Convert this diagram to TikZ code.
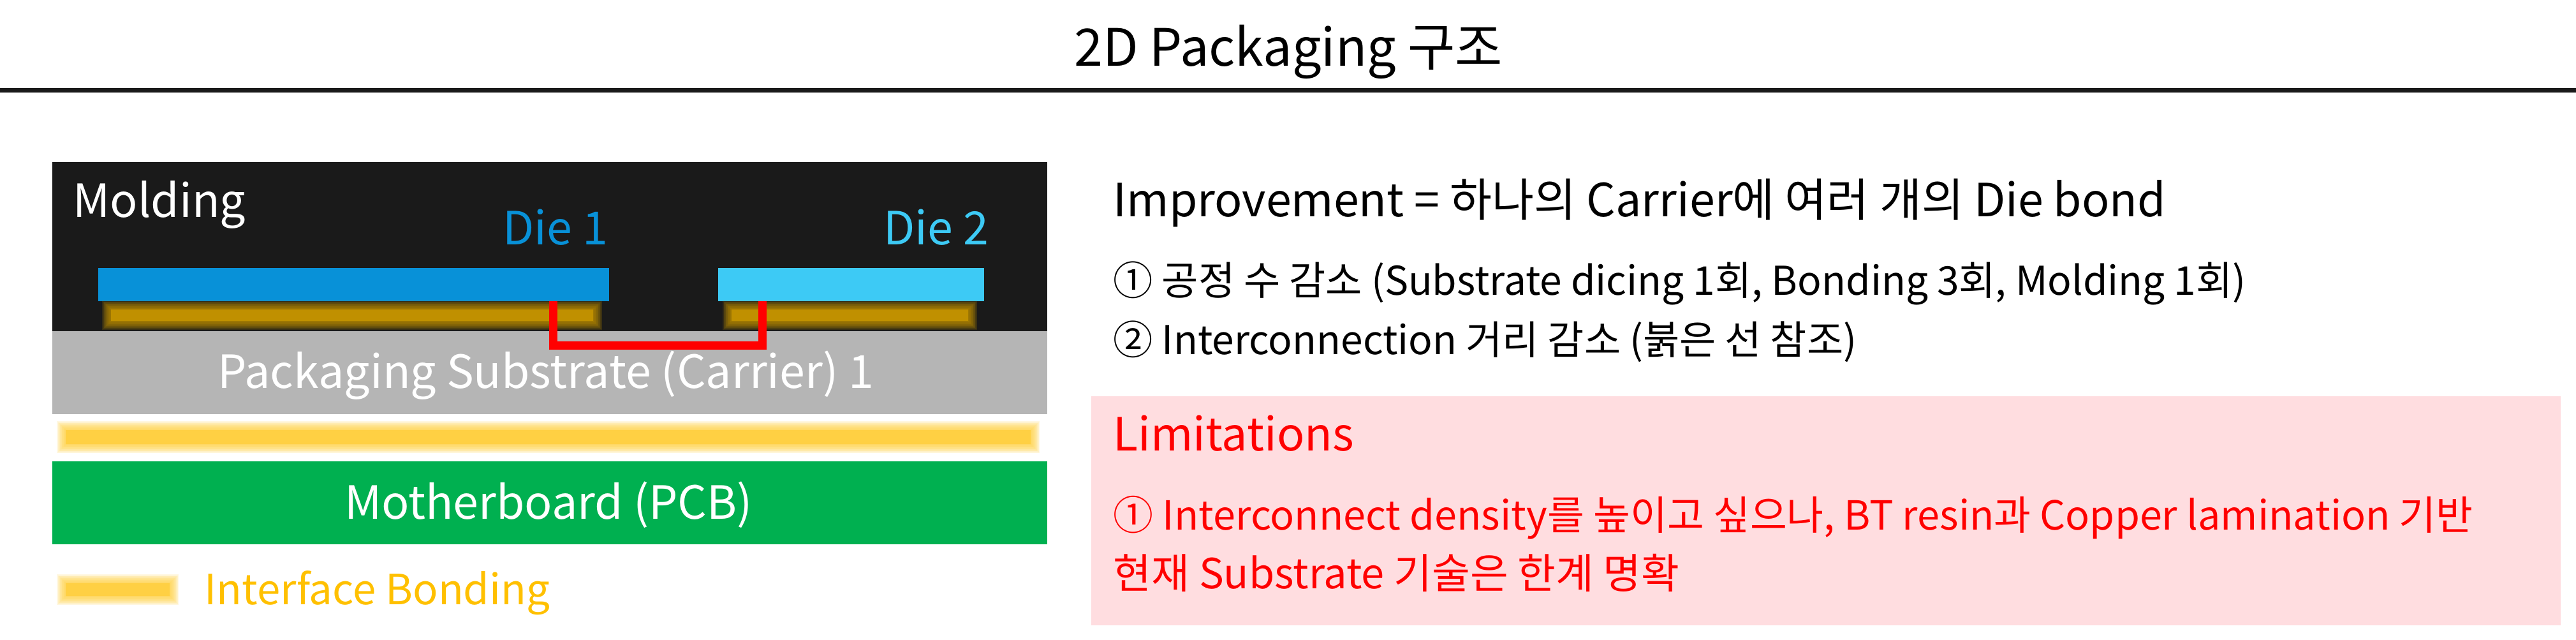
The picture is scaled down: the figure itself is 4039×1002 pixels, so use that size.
\documentclass[tikz,border=0pt]{standalone}
\usepackage{fontspec}
\setmainfont{Noto Sans CJK KR}
\usepackage{xcolor}
\usetikzlibrary{positioning}
\usetikzlibrary{calc}

\definecolor{moldblack}{HTML}{1A1A1A}
\definecolor{dieone}{HTML}{0891D8}
\definecolor{dietwo}{HTML}{3DCAF5}
\definecolor{diebond}{HTML}{C09000}
\definecolor{subgray}{HTML}{B5B5B5}
\definecolor{bondyellow}{HTML}{FFD043}
\definecolor{legendyellow}{HTML}{FFC000}
\definecolor{pcbgreen}{HTML}{00B050}
\definecolor{limpink}{HTML}{FFDDE0}
\definecolor{limred}{HTML}{FF0000}

\begin{document}
\begin{tikzpicture}[x=0.01cm,y=-0.01cm,
    layer/.style={draw=none,inner sep=0,anchor=north west},
    txt/.style={inner sep=0,anchor=base west,font=\fontsize{20.4pt}{24pt}\selectfont},
    small txt/.style={txt,font=\fontsize{17.7pt}{21pt}\selectfont},
    wire/.style={draw=limred,line width=0.13cm}]
\useasboundingbox (0,0) rectangle (4039,1002);

% title
\node[inner sep=0,anchor=base,font=\fontsize{23pt}{28pt}\selectfont] (title) at (2020,103) {2D Packaging 구조};
\coordinate (rulel) at (0,141);
\coordinate (ruler) at (4039,141);
\draw[line width=0.07cm,moldblack] (rulel) -- (ruler);

% package stack
\node[layer,fill=moldblack,minimum width=15.59cm,minimum height=2.65cm] (molding) at (81,253) {};
\node[layer,fill=subgray,minimum width=15.59cm,minimum height=1.30cm] (substrate) at (81,518) {};
\node[layer,fill=pcbgreen,minimum width=15.59cm,minimum height=1.30cm] (pcb) at (81,722) {};
\node[layer,fill=dieone,minimum width=8.01cm,minimum height=0.52cm] (die1) at (153,419) {};
\node[layer,fill=dietwo,minimum width=4.17cm,minimum height=0.52cm] (die2) at (1125,419) {};

% blurred bonding layers
\foreach \bx/\by/\ex/\ey/\c in {160/471/944/517/diebond, 1133/471/1532/517/diebond,
                                89/660/1630/710/bondyellow, 89/900/280/948/bondyellow}{
  \foreach \k in {0,...,9}
    \fill[\c,opacity=0.16] (\bx+\k*1.5,\by+\k*1.5) rectangle (\ex-\k*1.5,\ey-\k*1.5);
  \fill[\c] (\bx+14,\by+14) rectangle (\ex-14,\ey-14);
}

\node[txt,white] (moldlabel) at (114,340) {Molding};
\node[txt,dieone,anchor=base east] (die1label) at (954,383) {Die 1};
\node[txt,dietwo,anchor=base east] (die2label) at (1551,383) {Die 2};
\node[txt,white,anchor=base] (sublabel) at (856,608) {Packaging Substrate (Carrier) 1};
\node[txt,white,anchor=base] (pcblabel) at (860,813) {Motherboard (PCB)};
\node[txt,legendyellow,font=\fontsize{18.6pt}{22pt}\selectfont] (legend) at (320,947) {Interface Bonding};

% interconnection
\coordinate (w1) at (867,541);
\coordinate (w2) at (1195,541);
\draw[wire] (die1.south -| w1) -- (w1) -- (w2) -- (die2.south -| w2);

% right side
\node[txt] (improve) at (1745,339) {Improvement = 하나의 Carrier에 여러 개의 Die bond};
\node[small txt] (step1) at (1745,462) {① 공정 수 감소 (Substrate dicing 1회, Bonding 3회, Molding 1회)};
\node[small txt] (step2) at (1745,555) {② Interconnection 거리 감소 (붉은 선 참조)};

\node[layer,fill=limpink,minimum width=23.03cm,minimum height=3.59cm] (limbox) at (1710,620) {};
\node[txt,limred] (limtitle) at (1745,706) {Limitations};
\node[txt,limred,font=\fontsize{17.9pt}{22pt}\selectfont] (lim1) at (1745,830) {① Interconnect density를 높이고 싶으나, BT resin과 Copper lamination 기반};
\node[txt,limred,font=\fontsize{18.5pt}{22pt}\selectfont] (lim2) at (1745,922) {현재 Substrate 기술은 한계 명확};

\end{tikzpicture}
\end{document}
